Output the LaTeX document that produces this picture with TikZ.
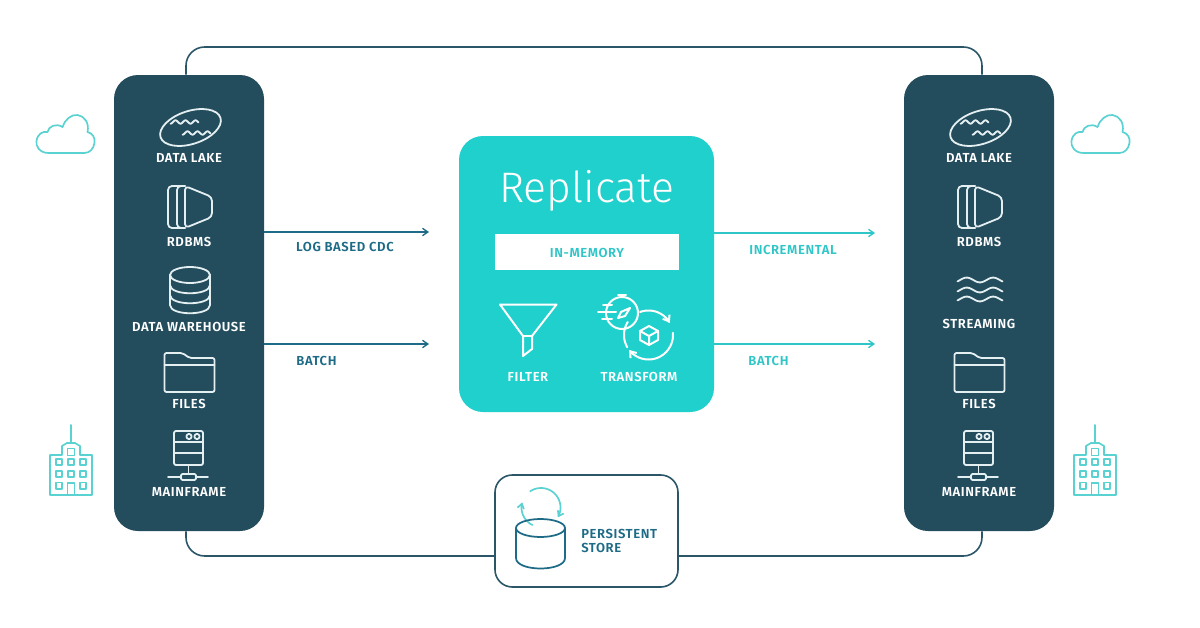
\documentclass[tikz,border=0pt]{standalone}
\usepackage{fontspec}
\setmainfont{Fira Sans}
\newfontfamily\lbl[LetterSpace=4.5]{Fira Sans SemiBold}
\newfontfamily\ttl{Fira Sans Light}
\usetikzlibrary{arrows.meta,calc}
\definecolor{panel}{HTML}{234C5D}
\definecolor{wire}{HTML}{2A5667}
\definecolor{tealbox}{HTML}{1FD0CC}
\definecolor{sky}{HTML}{5AD2D2}
\definecolor{blue}{HTML}{1D6B86}
\definecolor{aqua}{HTML}{2FC6C8}
\definecolor{iconw}{HTML}{E4EFF1}
\tikzset{
 x=0.75pt,y=-0.75pt,
 panelbox/.style={fill=panel,draw=none,rounded corners=18pt,minimum width=112.5pt,minimum height=342pt,inner sep=0pt},
 mainbox/.style={fill=tealbox,draw=none,rounded corners=18pt,minimum width=191.25pt,minimum height=207pt,inner sep=0pt},
 storebox/.style={fill=white,draw=wire,line width=1.2pt,rounded corners=13pt,minimum width=137.25pt,minimum height=84pt,inner sep=0pt},
 barbox/.style={fill=white,draw=none,minimum width=138pt,minimum height=27pt,inner sep=0pt},
 wireline/.style={draw=wire,line width=1.2pt,rounded corners=14pt},
 flow/.style={line width=1pt,-{Straight Barb[length=4pt,width=5.5pt,line width=1pt]}},
 tag/.style={font=\lbl\fontsize{9.8}{11}\selectfont,text=white,inner sep=0pt,anchor=center},
 sidetag/.style={font=\lbl\fontsize{9.8}{11}\selectfont,inner sep=0pt,anchor=center},
 ico/.style={draw=iconw,line width=1.35pt,line join=round,line cap=round},
 wht/.style={draw=white,line width=1.5pt,line join=round,line cap=round},
 skyl/.style={draw=sky,line width=1.25pt,line join=round,line cap=round},
 pics/lake/.style={code={
  \draw[ico,rotate=18] (0,0) ellipse [x radius=31.5,y radius=16.5];
  \draw[ico] plot[domain=-20:8,samples=40,smooth] (\x,{-5.5-1.7*cos((\x+15)*36)});
  \draw[ico] plot[domain=-8:20,samples=40,smooth] (\x,{5.5-1.7*cos((\x+3)*36)});
 }},
 pics/rdb/.style={code={
  \draw[ico,rounded corners=3pt] (-5,-21) -- (-22,-21) -- (-22,21) -- (-5,21);
  \draw[ico,rounded corners=3pt] (-5,-21) -- (-13,-21) -- (-13,21) -- (-5,21);
  \draw[ico,rounded corners=3pt] (-5,-21) -- (22,-10) -- (22,10) -- (-5,21) -- cycle;
 }},
 pics/dwh/.style={code={
  \draw[ico] (0,-15) ellipse [x radius=20,y radius=8];
  \draw[ico] (-20,-15) -- (-20,15) .. controls (-20,26) and (20,26) .. (20,15) -- (20,-15);
  \draw[ico] (-20,-5) .. controls (-20,6) and (20,6) .. (20,-5);
  \draw[ico] (-20,5) .. controls (-20,16) and (20,16) .. (20,5);
 }},
 pics/fold/.style={code={
  \draw[ico,rounded corners=1.5pt] (-25,-20) -- (-7,-20) -- (0,-15) -- (25,-15) -- (25,19) -- (-25,19) -- cycle;
  \draw[ico] (-25,-8) -- (25,-8);
 }},
 pics/srv/.style={code={
  \draw[ico,rounded corners=1.5pt] (-15,-21) rectangle (14,13);
  \draw[ico] (-15,-10) -- (14,-10) (-15,1) -- (14,1);
  \draw[ico] (0,-15.5) circle (2.6) (8,-15.5) circle (2.6);
  \draw[ico] (-0.5,13) -- (-0.5,22);
  \draw[ico,rounded corners=1pt] (-8,22) rectangle (7,28);
  \draw[ico] (-21,25) -- (-8,25) (7,25) -- (19,25);
 }},
 pics/stream/.style={code={
  \foreach \yy in {-10,0,9}{
   \draw[ico] plot[domain=-22:23,samples=50,smooth] (\x,{\yy-2.4*cos((\x+12.8)*13.6)});
  }
 }},
 pics/cloud/.style={code={
  \draw[skyl] (-17,19) .. controls (-26,19) and (-30,12) .. (-29,7) .. controls (-28,0) and (-23,-3) .. (-18,-2) .. controls (-17,-8) and (-9,-11) .. (-3,-7) .. controls (-1,-14) and (6,-20) .. (12,-19) .. controls (19,-18) and (24,-11) .. (22,-2) .. controls (27,-1) and (30,4) .. (29,9) .. controls (28,15) and (24,19) .. (19,19) -- cycle;
 }},
 pics/bldg/.style={code={
  \draw[skyl] (-21,35) -- (-21,-5) -- (-9,-5) -- (-9,-14) -- (-4,-17) -- (4,-17) -- (9,-14) -- (9,-5) -- (21,-5) -- (21,35) -- cycle;
  \draw[skyl] (0,-17) -- (0,-35);
  \draw[skyl] (-3.5,-11.5) rectangle (3.5,-4.5);
  \foreach \xx in {-12,0,12}\foreach \yy in {2,14}{
   \draw[skyl] (\xx-3.2,\yy-3.2) rectangle (\xx+3.2,\yy+3.2);
  }
  \draw[skyl] (-15.2,22.5) rectangle (-8.8,29);
  \draw[skyl] (8.8,22.5) rectangle (15.2,29);
  \draw[skyl] (-3.5,35) -- (-3.5,23) -- (3.5,23) -- (3.5,35);
 }},
}
\begin{document}
\begin{tikzpicture}
\useasboundingbox (0,0) rectangle (1200,628);
\fill[white] (0,0) rectangle (1200,628);
\coordinate (tlc) at (186,47);
\coordinate (trc) at (982,47);
\coordinate (blc) at (186,556);
\coordinate (brc) at (982,556);
\coordinate (a1) at (429,232);
\coordinate (a2) at (429,344);
\coordinate (a3) at (875,233);
\coordinate (a4) at (875,344);
\node[panelbox] (lp) at (189,303) {};
\node[panelbox] (rp) at (979,303) {};
\node[mainbox] (core) at (586.5,274) {};
\node[storebox] (store) at (586.5,531) {};
\draw[wireline] (lp.north -| tlc) -- (tlc) -- (trc) -- (rp.north -| trc);
\draw[wireline] (lp.south -| blc) -- (blc) -- (blc -| store.west);
\draw[wireline] (store.east |- brc) -- (brc) -- (rp.south -| brc);
\draw[flow,draw=blue] (lp.east |- a1) -- (a1);
\draw[flow,draw=blue] (lp.east |- a2) -- (a2);
\draw[flow,draw=aqua] (core.east |- a3) -- (a3);
\draw[flow,draw=aqua] (core.east |- a4) -- (a4);
\node[sidetag,text=blue] (t1) at (345,247) {LOG BASED CDC};
\node[sidetag,text=blue] (t2) at (316.5,361) {BATCH};
\node[sidetag,text=aqua] (t3) at (793,250) {INCREMENTAL};
\node[sidetag,text=aqua] (t4) at (768.5,361) {BATCH};
\pic at (190.5,127.5) {lake};
\pic at (190,207) {rdb};
\pic at (190,290) {dwh};
\pic at (189.5,373) {fold};
\pic at (189,452) {srv};
\node[tag] (l1) at (189,158) {DATA LAKE};
\node[tag] (l2) at (189,242) {RDBMS};
\node[tag] (l3) at (189,327) {DATA WAREHOUSE};
\node[tag] (l4) at (189,404) {FILES};
\node[tag] (l5) at (189,492) {MAINFRAME};
\pic at (980.5,127.5) {lake};
\pic at (980,207) {rdb};
\pic at (979.5,290) {stream};
\pic at (979.5,373) {fold};
\pic at (979,452) {srv};
\node[tag] (r1) at (979,158) {DATA LAKE};
\node[tag] (r2) at (979,242) {RDBMS};
\node[tag] (r3) at (979,324) {STREAMING};
\node[tag] (r4) at (979,404) {FILES};
\node[tag] (r5) at (979,492) {MAINFRAME};
\pic at (65.5,134) {cloud};
\pic at (1100.5,134) {cloud};
\pic at (71,460) {bldg};
\pic at (1095,460) {bldg};
\node[font=\ttl\fontsize{32}{36}\selectfont,text=white,inner sep=0pt] (title) at (587,191) {Replicate};
\node[barbox] (bar) at (587,252) {};
\node[sidetag,text=aqua] (mem) at (587,253) {IN-MEMORY};
\draw[wht] (500,304.5) -- (556.5,304.5) -- (532,336) -- (532,349) -- (523,356) -- (523,336) -- cycle;
\draw[wht] (523,336) -- (532,336);
\node[tag] (f) at (528,377) {FILTER};
\node[tag] (tr) at (639,377) {TRANSFORM};
% transform icon
\draw[wht] (622,313) circle (16);
\draw[wht] (622,297) -- (622,295) (618,295) -- (626,295);
\draw[wht] (618,318) -- (621,312) -- (630,308) -- (625,316) -- cycle;
\draw[wht] (598,312) -- (616,312) (603,305) -- (612,305) (602,319) -- (612,319);
\draw[wht,-{Straight Barb[length=4pt,width=6pt]}] plot[domain=-110:-30,samples=30,smooth] ({648.5+24.5*cos(\x)},{335+24.5*sin(\x)});
\draw[wht,-{Straight Barb[length=4pt,width=6pt]}] plot[domain=-5:142,samples=40,smooth] ({648.5+24.5*cos(\x)},{335+24.5*sin(\x)});
\draw[wht] plot[domain=150:212,samples=20,smooth] ({648.5+24.5*cos(\x)},{335+24.5*sin(\x)});
\draw[wht] (649,326) -- (658,331) -- (658,340) -- (649,345) -- (640,340) -- (640,331) -- cycle;
\draw[wht] (640,331) -- (649,336) -- (658,331) (649,336) -- (649,345);
% store icon
\draw[draw=sky,line width=1.25pt,-{Straight Barb[length=3.5pt,width=5pt]}] plot[domain=-125:30,samples=40,smooth] ({541+19.5*cos(\x)},{507.5+19.5*sin(\x)});
\draw[draw=sky,line width=1.25pt,-{Straight Barb[length=3.5pt,width=5pt]}] plot[domain=115:195,samples=25,smooth] ({541+19.5*cos(\x)},{507.5+19.5*sin(\x)});
\draw[draw=blue,line width=1.3pt] (540.5,528) ellipse [x radius=24.5,y radius=9];
\draw[draw=blue,line width=1.3pt] (516,528) -- (516,558) .. controls (516,572) and (565,572) .. (565,558) -- (565,528);
\node[font=\lbl\fontsize{9.8}{10.5}\selectfont,text=blue,inner sep=0pt,anchor=north west,align=left] (ps) at (581,529) {PERSISTENT\\STORE};
\end{tikzpicture}
\end{document}
